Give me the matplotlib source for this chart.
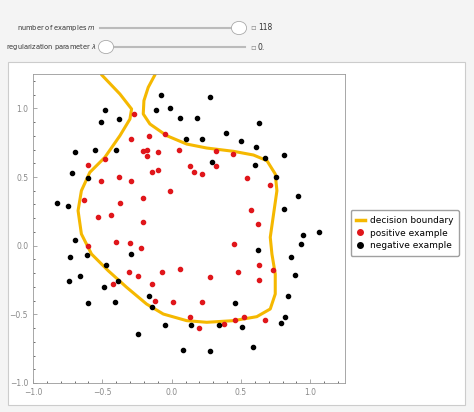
import matplotlib
matplotlib.use("Agg")
import matplotlib.pyplot as plt
from matplotlib.patches import Rectangle, Circle
from matplotlib.lines import Line2D

neg_x = [-0.08,0.28,-0.48,-0.11,-0.01,-0.51,-0.38,0.06,0.18,0.63,0.39,0.10,0.22,0.50,0.61,-0.70,-0.55,-0.40,0.67,0.81,0.29,0.60,-0.72,-0.60,0.75,0.91,-0.83,-0.75,0.81,1.06,0.95,0.93,-0.70,0.62,-0.29,-0.73,-0.61,0.86,-0.47,0.89,-0.66,-0.74,-0.39,-0.49,-0.16,0.84,-0.60,-0.41,0.46,-0.14,0.82,0.79,-0.05,0.14,0.34,0.51,-0.24,0.59,0.08,0.28]
neg_y = [1.10,1.08,0.99,0.99,1.00,0.90,0.92,0.93,0.93,0.89,0.82,0.78,0.78,0.76,0.72,0.68,0.70,0.70,0.64,0.66,0.61,0.59,0.53,0.49,0.50,0.36,0.31,0.29,0.27,0.10,0.08,0.01,0.04,-0.03,-0.06,-0.08,-0.07,-0.08,-0.14,-0.21,-0.22,-0.26,-0.26,-0.30,-0.37,-0.37,-0.42,-0.41,-0.42,-0.45,-0.52,-0.56,-0.58,-0.58,-0.58,-0.59,-0.64,-0.74,-0.76,-0.77]
pos_x = [-0.27,-0.16,-0.05,-0.29,-0.21,-0.18,-0.10,0.05,-0.18,0.32,0.44,-0.48,-0.60,0.13,0.32,-0.14,-0.10,0.16,0.22,-0.38,-0.51,-0.29,0.54,0.71,-0.01,-0.21,-0.63,-0.37,0.57,-0.53,-0.44,-0.21,0.62,-0.60,-0.40,-0.30,0.45,-0.22,0.63,-0.31,-0.07,0.06,0.48,0.73,-0.24,0.28,0.63,-0.14,-0.42,-0.12,0.01,0.22,0.13,0.52,0.46,0.67,0.38,0.20]
pos_y = [0.96,0.80,0.81,0.78,0.69,0.70,0.68,0.70,0.65,0.69,0.67,0.63,0.59,0.58,0.58,0.54,0.55,0.54,0.52,0.50,0.47,0.47,0.49,0.44,0.40,0.35,0.33,0.31,0.26,0.21,0.22,0.17,0.16,0.00,0.03,0.02,0.01,-0.02,-0.14,-0.19,-0.19,-0.17,-0.19,-0.18,-0.22,-0.23,-0.25,-0.28,-0.28,-0.40,-0.41,-0.41,-0.52,-0.52,-0.54,-0.54,-0.57,-0.60]
bnd_x = [-0.506,-0.373,-0.289,-0.301,-0.373,-0.482,-0.590,-0.651,-0.675,-0.651,-0.578,-0.458,-0.325,-0.181,-0.060,0.108,0.253,0.446,0.614,0.711,0.747,0.747,0.723,0.711,0.735,0.759,0.747,0.687,0.590,0.446,0.253,0.108,-0.036,-0.157,-0.205,-0.200,-0.169,-0.120]
bnd_y = [1.245,1.104,0.995,0.922,0.801,0.643,0.534,0.400,0.255,0.085,-0.061,-0.182,-0.303,-0.425,-0.498,-0.546,-0.558,-0.546,-0.517,-0.461,-0.352,-0.206,-0.061,0.061,0.231,0.400,0.522,0.619,0.660,0.687,0.711,0.740,0.801,0.886,0.959,1.056,1.153,1.245]
legend_labels = ["decision boundary", "positive example", "negative example"]

fig = plt.figure(figsize=(4.74, 4.12), dpi=100, facecolor="#f4f4f4")
panel = Rectangle((8/474, 7/412), 457/474, 343/412, transform=fig.transFigure,
                  facecolor="white", edgecolor="#cccccc", lw=0.8, zorder=-10)
fig.add_artist(panel)

def slider(y, label, knob, val):
    fig.text(96/474, y, label, ha="right", va="center", fontsize=4.8, color="#333333")
    fig.add_artist(Line2D([100/474, 245/474], [y, y], color="#bbbbbb", lw=1.5))
    fig.add_artist(Circle((knob/474, y), 0.016, transform=fig.transFigure,
                          facecolor="white", edgecolor="#aaaaaa", lw=0.6, zorder=5))
    fig.text(250/474, y, "▫", ha="left", va="center", fontsize=6, color="#888888")
    fig.text(258/474, y, val, ha="left", va="center", fontsize=5.5, color="#333333")
slider(1 - 28/412, "number of examples $m$", 239, "118")
slider(1 - 47/412, "regularization parameter $\\lambda$", 106, "0.")

ax = fig.add_axes([33/474, 29/412, 312/474, 309/412])
ax.plot(bnd_x, bnd_y, color="#f5b800", lw=2.2, solid_joinstyle="round", solid_capstyle="round")
ax.scatter(pos_x, pos_y, s=9, color="#e0161b", zorder=3)
ax.scatter(neg_x, neg_y, s=9, color="black", zorder=3)
ax.set_xlim(-1.0, 1.25)
ax.set_ylim(-1.0, 1.25)
ax.set_xticks([-1.0, -0.5, 0.0, 0.5, 1.0])
ax.set_yticks([-1.0, -0.5, 0.0, 0.5, 1.0])
ax.set_xticks([-1 + 0.1*i for i in range(23)], minor=True)
ax.set_yticks([-1 + 0.1*i for i in range(23)], minor=True)
ax.tick_params(labelsize=5.5, colors="#888888", length=3, width=0.5, direction="in")
ax.tick_params(which="minor", length=1.5, width=0.4, direction="in")
for s in ax.spines.values():
    s.set_color("#999999"); s.set_linewidth(0.6)

handles = [Line2D([], [], color="#f5b800", lw=2.5),
           Line2D([], [], marker="o", ls="", color="#e0161b", markersize=4),
           Line2D([], [], marker="o", ls="", color="black", markersize=4)]
fig.legend(handles, legend_labels, loc="center left", bbox_to_anchor=(346/474, 1 - 233/412),
           fontsize=6.5, frameon=True, edgecolor="#888888", fancybox=True,
           handlelength=1.0, handletextpad=0.6, borderpad=0.6, labelspacing=0.4)
fig.savefig("out.png", dpi=100, facecolor=fig.get_facecolor())
